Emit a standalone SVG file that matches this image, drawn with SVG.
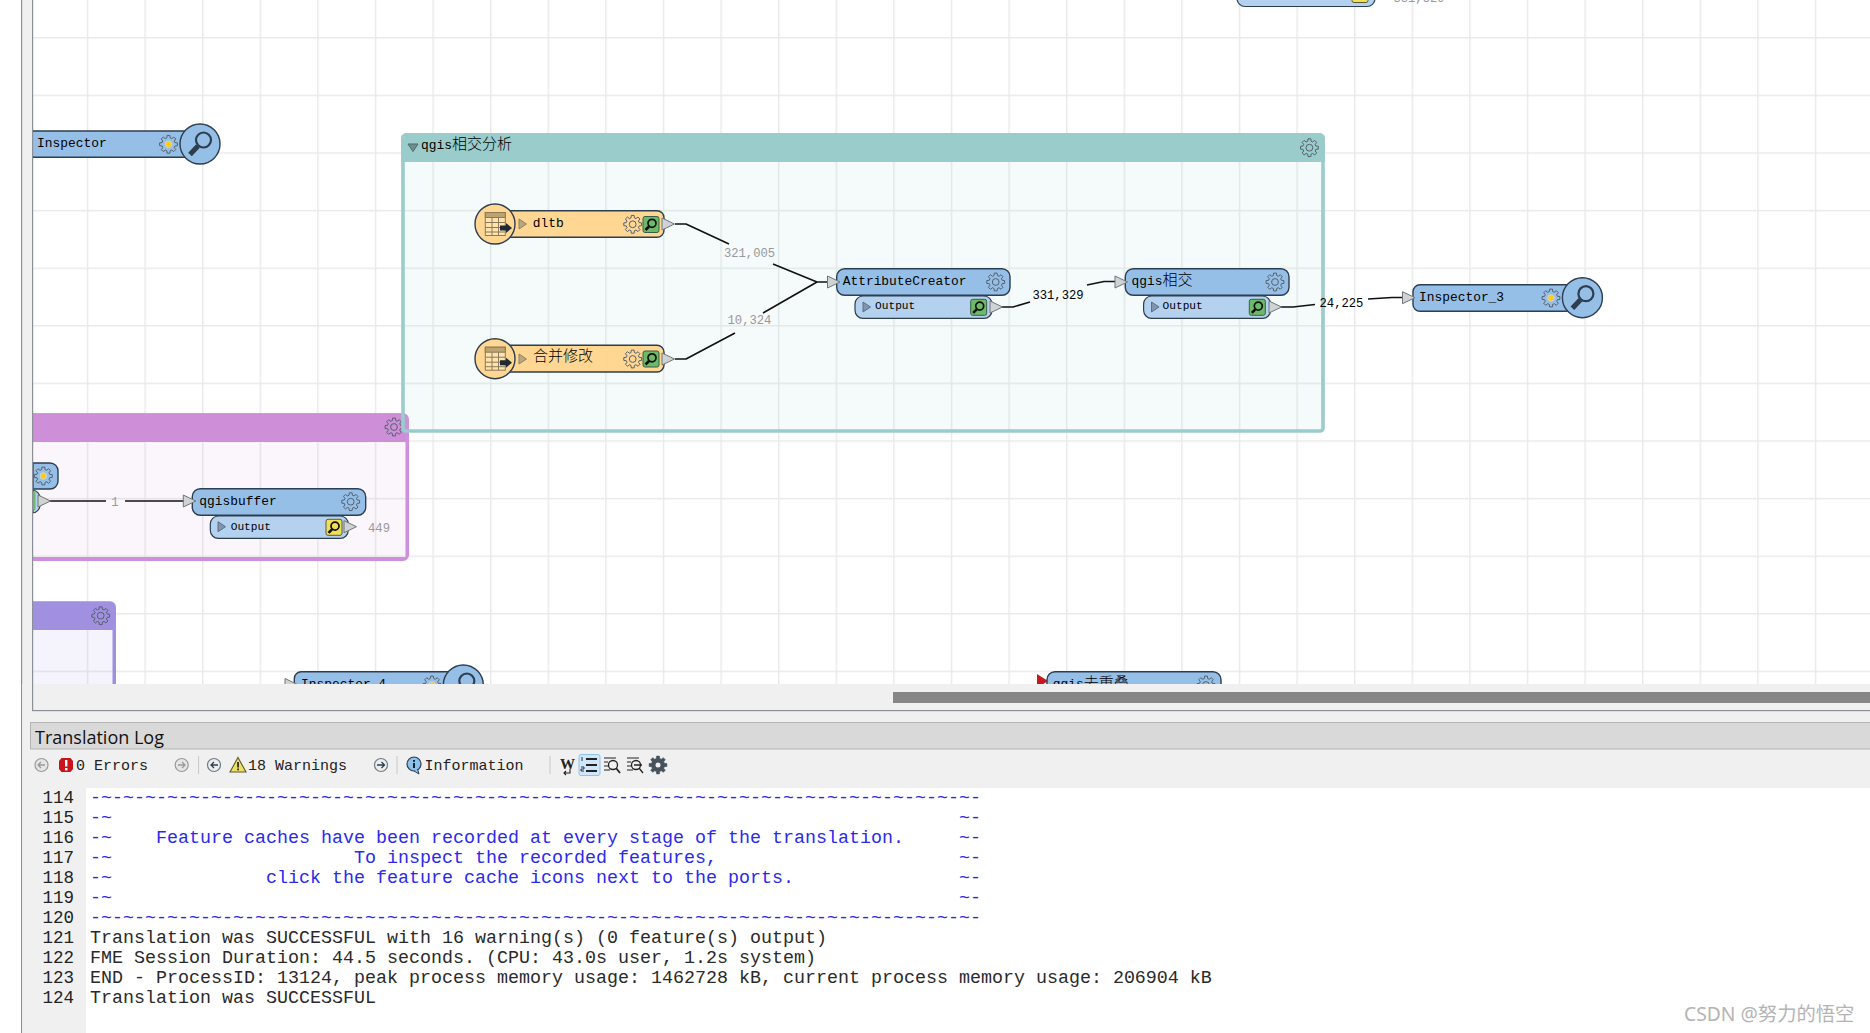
<svg xmlns="http://www.w3.org/2000/svg" width="1870" height="1033" viewBox="0 0 1870 1033">
<style>
text{font-family:"Liberation Mono","Noto Sans CJK SC",monospace;white-space:pre}
.n{font-size:12.9px;fill:#000}
.cjk{font-size:15px;font-family:"Noto Sans CJK SC",sans-serif;font-weight:300}
.o{font-size:11.2px;fill:#000}
.lg{font-size:12.2px;fill:#999}
.lb{font-size:12.2px;fill:#000}
.blue{fill:#96bfe8;stroke:#2c3e50;stroke-width:1.4}
.sub{fill:#b4d2ef;stroke:#2c3e50;stroke-width:1.2}
.orange{fill:#ffd793;stroke:#2c3e50;stroke-width:1.4}
.log{font-size:18.33px;fill:#2a2a2a}
.logb{font-size:18.33px;fill:#2a2aee}
.num{font-size:17.5px;fill:#222;text-anchor:end}
.tb{font-size:15px;fill:#222}
.wire{fill:none;stroke:#111;stroke-width:1.6;stroke-linejoin:round}
.port{fill:#cfd3d3;stroke:#6e7678;stroke-width:1}
.btn{fill:#e6e6e6;stroke:#9a9a9a;stroke-width:1.2}
.sep{stroke:#c8c8c8;stroke-width:1}
</style>
<defs>
<pattern id="gridp" patternUnits="userSpaceOnUse" x="86.8" y="152.3" width="57.6" height="57.6">
<rect width="57.6" height="1.4" fill="#e9e9e9"/>
<rect width="1.4" height="57.6" fill="#e9e9e9"/>
</pattern>
<polygon id="gearp" points="6.38,-1.71 8.89,-1.41 8.89,1.41 6.38,1.71 5.72,3.3 7.28,5.29 5.29,7.28 3.3,5.72 1.71,6.38 1.41,8.89 -1.41,8.89 -1.71,6.38 -3.3,5.72 -5.29,7.28 -7.28,5.29 -5.72,3.3 -6.38,1.71 -8.89,1.41 -8.89,-1.41 -6.38,-1.71 -5.72,-3.3 -7.28,-5.29 -5.29,-7.28 -3.3,-5.72 -1.71,-6.38 -1.41,-8.89 1.41,-8.89 1.71,-6.38 3.3,-5.72 5.29,-7.28 7.28,-5.29 5.72,-3.3"/>
<g id="gear"><use href="#gearp" fill="none" stroke="#55606c" stroke-width="1"/><circle r="3.4" fill="none" stroke="#55606c" stroke-width="1"/></g>
<g id="gearY"><use href="#gearp" fill="none" stroke="#55606c" stroke-width="1"/><circle r="3.3" fill="#ffcc11" stroke="#c9d4df" stroke-width="1"/></g>
<g id="glass"><circle cx="3.5" cy="-4" r="7.5" fill="none" stroke="#2c3e50" stroke-width="2.2"/><path d="M-2,2L-10,10.5" stroke="#2c3e50" stroke-width="5" fill="none"/></g>
<g id="mini"><circle cx="1" cy="-1.2" r="4" fill="none" stroke="#111" stroke-width="1.7"/><path d="M-2,2L-5.5,5.5" stroke="#111" stroke-width="2.6" fill="none"/></g>
<g id="green"><rect x="-8" y="-8" width="16" height="16" rx="2" fill="#6cba68" stroke="#3b5a48" stroke-width="1"/><use href="#mini"/></g>
<g id="yellow"><rect x="-8" y="-8" width="16" height="16" rx="2" fill="#efdf55" stroke="#5a5a38" stroke-width="1"/><use href="#mini"/></g>
<polygon id="out" class="port" points="0,-6 12.5,0 0,6"/>
<polygon id="tri" points="0,-5 7.5,0 0,5" fill="#7f96ae" stroke="#5c6f84" stroke-width="1"/>
<polygon id="triT" points="0,-5 7.5,0 0,5" fill="#bba77e" stroke="#8f815f" stroke-width="1"/>
<g id="reader">
<circle r="20" class="orange"/>
<rect x="-9.7" y="-11.5" width="20" height="23" fill="#ffe2ae" stroke="#8b7a55" stroke-width="1"/>
<rect x="-9.7" y="-11.5" width="20" height="5" fill="#bda371" stroke="#8b7a55" stroke-width="1"/>
<path d="M-3,-6.5V11.5M3.5,-6.5V11.5M-9.7,-1.5H10.3M-9.7,3.5H10.3M-9.7,8H10.3" stroke="#8b7a55" stroke-width="1" fill="none"/>
<polygon points="5,1.5 11,1.5 11,-1 17,4 11,9 11,6.5 5,6.5" fill="#1f2a33"/>
</g>
</defs>

<rect width="1870" height="1033" fill="#fff"/>
<rect x="21" y="0" width="1849" height="1033" fill="#f0f0f0"/>
<rect x="21" y="0" width="1.2" height="1033" fill="#8a8f98"/>
<rect x="33" y="0" width="1837" height="684" fill="#fff"/>

<rect x="33" y="0" width="1837" height="684" fill="url(#gridp)"/>

<g id="group-purple">
<path d="M33,413.3H403a6,6 0 0 1 6,6V555a6,6 0 0 1-6,6H33Z" fill="#d08ede" fill-opacity="0.09"/>
<path d="M33,413.3H403a6,6 0 0 1 6,6V555a6,6 0 0 1-6,6H33V557H405.500V442H33Z" fill="#d08ede"/>
<rect x="33" y="413.3" width="372" height="28.7" fill="#ce8fd9"/>
<use href="#gear" x="394" y="427"/>
</g>

<g id="group-violet">
<path d="M33,601.3H110a6,6 0 0 1 6,6V684H33Z" fill="#a090df" fill-opacity="0.1"/>
<path d="M33,601.3H110a6,6 0 0 1 6,6V684H112.500V630H33Z" fill="#a090df"/>
<use href="#gear" x="100.700" y="615.700"/>
</g>

<g id="group-teal">
<rect x="403" y="135" width="920" height="296" rx="3" fill="#9acccc" fill-opacity="0.1" stroke="#9acccc" stroke-width="3.600"/>
<path d="M401,162V139a6,6 0 0 1 6-6H1319a6,6 0 0 1 6,6V162Z" fill="#9acccc"/>
<polygon points="408,144 418,144 413,151.500" fill="#6f8f8f" stroke="#4f6a6a" stroke-width="1"/>
<text x="421" y="149" class="n">qgis<tspan class="cjk">相交分析</tspan></text>
<use href="#gear" x="1309.400" y="147.700"/>
</g>

<g id="connectors">
<path class="wire" d="M675,224H686L729,244"/>
<path class="wire" d="M773,264L817,282H828"/>
<path class="wire" d="M675,359H686L735,333"/>
<path class="wire" d="M763,313L817,282"/>
<path class="wire" d="M1002,307H1013L1030,302"/>
<path class="wire" d="M1087,285L1104,281.500H1116"/>
<path class="wire" d="M1281,307H1293L1315,304.500"/>
<path class="wire" d="M1368,299L1392,297.500H1404"/>
<path class="wire" d="M50,501H106"/>
<path class="wire" d="M125,501H184"/>
<text x="749.500" y="257" class="lg" text-anchor="middle">321,005</text>
<text x="749.500" y="324" class="lg" text-anchor="middle">10,324</text>
<text x="1058" y="299" class="lb" text-anchor="middle">331,329</text>
<text x="1341.500" y="307" class="lb" text-anchor="middle">24,225</text>
<text x="115" y="506" class="lg" text-anchor="middle">1</text>
<text x="368" y="532" class="lg">449</text>
<text x="1419" y="2" class="lg" text-anchor="middle">331,329</text>
</g>

<g id="node-top">
<rect x="1237" y="-24" width="138" height="30.500" rx="8" class="sub"/>
<rect x="1352" y="-14" width="16" height="16.500" rx="2" fill="#efdf55" stroke="#5a5a38"/>
</g>

<g id="node-inspector">
<path d="M33,131H190V157.300H33Z" class="blue"/>
<rect x="33" y="132" width="3" height="24" fill="#96bfe8"/>
<circle cx="200" cy="144" r="20" class="blue"/>
<use href="#glass" x="200" y="144"/>
<use href="#gearY" x="168.500" y="144.300"/>
<text x="37" y="147" class="n">Inspector</text>
</g>

<g id="node-dltb">
<rect x="490" y="210.700" width="174" height="26.600" rx="7" class="orange"/>
<use href="#reader" x="495" y="224"/>
<use href="#triT" x="519" y="224"/>
<text x="532.700" y="226.500" class="n">dltb</text>
<use href="#gear" x="632.700" y="224.300"/>
<use href="#green" x="651" y="224.500"/>
<use href="#out" x="662" y="224"/>
</g>

<g id="node-merge">
<rect x="490" y="345.300" width="174" height="26.700" rx="7" class="orange"/>
<use href="#reader" x="495" y="358.700"/>
<use href="#triT" x="519" y="359"/>
<text x="533" y="361" class="n"><tspan class="cjk">合并修改</tspan></text>
<use href="#gear" x="632.700" y="359"/>
<use href="#green" x="651" y="359"/>
<use href="#out" x="662" y="359"/>
</g>

<g id="node-attributecreator">
<rect x="855" y="296" width="137" height="22.300" rx="8" class="sub"/>
<use href="#tri" x="863" y="307"/>
<text x="875" y="309" class="o">Output</text>
<use href="#green" x="978.700" y="307.300"/>
<use href="#out" x="990" y="307"/>
<rect x="836.700" y="268.700" width="173.300" height="26.600" rx="8" class="blue"/>
<use href="#out" x="827.500" y="282"/>
<text x="842.700" y="284.500" class="n">AttributeCreator</text>
<use href="#gear" x="995.700" y="282"/>
</g>

<g id="node-qgis-intersect">
<rect x="1143.600" y="296" width="127" height="22.300" rx="8" class="sub"/>
<use href="#tri" x="1151.500" y="307"/>
<text x="1162.500" y="309" class="o">Output</text>
<use href="#green" x="1257.300" y="307.300"/>
<use href="#out" x="1269" y="307"/>
<rect x="1125.300" y="268.700" width="163.700" height="26.600" rx="8" class="blue"/>
<use href="#out" x="1115" y="282"/>
<text x="1131.600" y="284.500" class="n">qgis<tspan class="cjk">相交</tspan></text>
<use href="#gear" x="1275" y="282"/>
</g>

<g id="node-inspector3">
<rect x="1413" y="284.700" width="160" height="26.600" rx="7" class="blue"/>
<use href="#out" x="1402.500" y="297.700"/>
<circle cx="1582.400" cy="297.700" r="20" class="blue"/>
<use href="#glass" x="1582.400" y="297.700"/>
<use href="#gearY" x="1551" y="298"/>
<text x="1419" y="300.500" class="n">Inspector_3</text>
</g>

<g id="node-partial">
<path d="M33,463H50a8,8 0 0 1 8,8V481a8,8 0 0 1-8,8H33Z" class="blue"/>
<use href="#gearY" x="43.300" y="476"/>
<path d="M33,490H32a8,8 0 0 1 8,8V505a8,8 0 0 1-8,8H33Z" class="sub"/>
<rect x="33" y="492" width="2.500" height="18" fill="#6cba68"/>
<use href="#out" x="38" y="501"/>
</g>

<g id="node-qgisbuffer">
<rect x="210.300" y="516" width="138" height="22.300" rx="8" class="sub"/>
<use href="#tri" x="218" y="526.700"/>
<text x="230.700" y="529.500" class="o">Output</text>
<use href="#yellow" x="334" y="527.300"/>
<use href="#out" x="344" y="526.700"/>
<rect x="192.300" y="488.700" width="173.400" height="26.600" rx="8" class="blue"/>
<use href="#out" x="183.300" y="501"/>
<text x="199.300" y="504.500" class="n">qgisbuffer</text>
<use href="#gear" x="350.700" y="501.700"/>
</g>

<g id="node-inspector4">
<rect x="294.300" y="671.700" width="160" height="26.600" rx="7" class="blue"/>
<use href="#out" x="285" y="684.500"/>
<circle cx="463.300" cy="685" r="20" class="blue"/>
<use href="#glass" x="463.300" y="685"/>
<use href="#gearY" x="432" y="685"/>
<text x="301" y="687.500" class="n">Inspector_4</text>
</g>

<g id="node-dedupe">
<polygon points="1037,674 1048,681 1037,688" fill="#c8181e"/>
<rect x="1047" y="671.700" width="174" height="26.600" rx="8" class="blue"/>
<text x="1052.700" y="687.500" class="n">qgis<tspan class="cjk">去重叠</tspan></text>
<use href="#gear" x="1206" y="685"/>
</g>

<g id="window-chrome">
<rect x="33" y="684" width="1837" height="349" fill="#f0f0f0"/>
<rect x="22.200" y="684" width="10.800" height="349" fill="#f0f0f0"/>
<rect x="32" y="0" width="1.200" height="710" fill="#8a8f98"/>
<rect x="893" y="692" width="977" height="11" fill="#868686"/>
<rect x="32" y="710" width="1838" height="1.200" fill="#8a8f98"/>
<rect x="30.500" y="722.500" width="1840" height="26.500" fill="#d9d9d9" stroke="#b4b4b4"/>
<text x="35" y="743.500" style="font-family:'Open Sans','Noto Sans',sans-serif;font-size:18px;fill:#111">Translation Log</text>
</g>

<g id="log-toolbar">
<circle cx="41.500" cy="765" r="6.500" class="btn"/>
<path d="M45,765H38M41,762L38,765L41,768" stroke="#999" stroke-width="1.300" fill="none"/>
<polygon points="61.500,758 70.500,758 73,761 73,769 70.500,772 61.500,772 59,769 59,761" fill="#c8141a"/>
<rect x="65" y="760" width="2.400" height="6.500" fill="#fff"/><rect x="65" y="768" width="2.400" height="2.400" fill="#fff"/>
<text x="76" y="770" class="tb">0 Errors</text>
<circle cx="181.700" cy="765" r="6.500" class="btn"/>
<path d="M178,765H185M182,762L185,765L182,768" stroke="#999" stroke-width="1.300" fill="none"/>
<line class="sep" x1="198.600" y1="756" x2="198.600" y2="774"/>
<circle cx="214" cy="765" r="6.500" fill="#eee" stroke="#6f7b87" stroke-width="1.200"/>
<path d="M218,765H211M214,762L211,765L214,768" stroke="#2c3e50" stroke-width="1.300" fill="none"/>
<polygon points="238,757.500 246,772 230,772" fill="#efe060" stroke="#5a5a30" stroke-width="1.100"/>
<rect x="237.200" y="762" width="1.700" height="5.500" fill="#222"/><rect x="237.200" y="768.500" width="1.700" height="1.800" fill="#222"/>
<text x="248" y="770" class="tb">18 Warnings</text>
<circle cx="381" cy="765" r="6.500" fill="#eee" stroke="#6f7b87" stroke-width="1.200"/>
<path d="M377,765H384.500M381.500,762L384.500,765L381.500,768" stroke="#2c3e50" stroke-width="1.300" fill="none"/>
<line class="sep" x1="397" y1="756" x2="397" y2="774"/>
<circle cx="414" cy="764" r="7" fill="#8fc0ea" stroke="#2c3e50" stroke-width="1.200"/>
<path d="M414,771L419,774L417.500,769" fill="#8fc0ea" stroke="#2c3e50"/>
<rect x="413" y="763" width="2" height="5" fill="#123"/><rect x="413" y="760" width="2" height="1.800" fill="#123"/>
<text x="424.500" y="770" class="tb">Information</text>
<line class="sep" x1="550" y1="756" x2="550" y2="774"/>
<text x="560" y="769" style="font-family:'Liberation Serif',serif;font-size:15px;font-weight:bold;fill:#222">W</text>
<path d="M570,769V773H564M566,771L564,773L566,775" stroke="#222" fill="none" stroke-width="1.100"/>
<rect x="579" y="754.500" width="21" height="21" rx="2" fill="#cfe6fb" stroke="#8cc3f2"/>
<path d="M586,759H597M586,765H597M586,771H597" stroke="#222" stroke-width="2" fill="none"/>
<path d="M582,757V761M581,767H584V769H581V771H584" stroke="#222" fill="none" stroke-width="0.900"/>
<path d="M604,758H616M604,762H608M604,766H608M604,770H610" stroke="#222" fill="none"/>
<circle cx="613" cy="765" r="4.500" fill="none" stroke="#222" stroke-width="1.300"/>
<path d="M616,768L620,773" stroke="#222" stroke-width="1.800"/>
<path d="M627,758H639M627,762H631M627,766H631M627,770H633" stroke="#222" fill="none"/>
<circle cx="636" cy="765" r="4.500" fill="none" stroke="#222" stroke-width="1.300"/>
<path d="M634,765H642M639,768L643,773" stroke="#222" stroke-width="1.300"/>
<use href="#gearp" x="658" y="765" fill="#48525c" stroke="#48525c" stroke-width="0.600"/>
<circle cx="658" cy="765" r="2.500" fill="#f0f0f0"/>
</g>

<g id="log-text">
<rect x="30" y="788" width="1840" height="245" fill="#fff"/>
<rect x="30" y="788" width="56" height="245" fill="#f0f0f0"/>
<text class="num" x="74" y="802.800">114</text>
<text class="num" x="74" y="822.800">115</text>
<text class="num" x="74" y="842.800">116</text>
<text class="num" x="74" y="862.800">117</text>
<text class="num" x="74" y="882.800">118</text>
<text class="num" x="74" y="902.800">119</text>
<text class="num" x="74" y="922.800">120</text>
<text class="num" x="74" y="942.800">121</text>
<text class="num" x="74" y="962.800">122</text>
<text class="num" x="74" y="982.800">123</text>
<text class="num" x="74" y="1002.800">124</text>
<text class="logb" x="90" y="803">-~-~-~-~-~-~-~-~-~-~-~-~-~-~-~-~-~-~-~-~-~-~-~-~-~-~-~-~-~-~-~-~-~-~-~-~-~-~-~-~-</text>
<text class="logb" x="90" y="823">-~                                                                             ~-</text>
<text class="logb" x="90" y="843">-~    Feature caches have been recorded at every stage of the translation.     ~-</text>
<text class="logb" x="90" y="863">-~                      To inspect the recorded features,                      ~-</text>
<text class="logb" x="90" y="883">-~              click the feature cache icons next to the ports.               ~-</text>
<text class="logb" x="90" y="903">-~                                                                             ~-</text>
<text class="logb" x="90" y="923">-~-~-~-~-~-~-~-~-~-~-~-~-~-~-~-~-~-~-~-~-~-~-~-~-~-~-~-~-~-~-~-~-~-~-~-~-~-~-~-~-</text>
<text class="log" x="90" y="943">Translation was SUCCESSFUL with 16 warning(s) (0 feature(s) output)</text>
<text class="log" x="90" y="963">FME Session Duration: 44.5 seconds. (CPU: 43.0s user, 1.2s system)</text>
<text class="log" x="90" y="983">END - ProcessID: 13124, peak process memory usage: 1462728 kB, current process memory usage: 206904 kB</text>
<text class="log" x="90" y="1003">Translation was SUCCESSFUL</text>
</g>

<text x="1684" y="1021" style="font-family:'Noto Sans','Noto Sans CJK SC',sans-serif;font-size:19.3px;fill:#b4b4b4">CSDN @努力的悟空</text>
</svg>
